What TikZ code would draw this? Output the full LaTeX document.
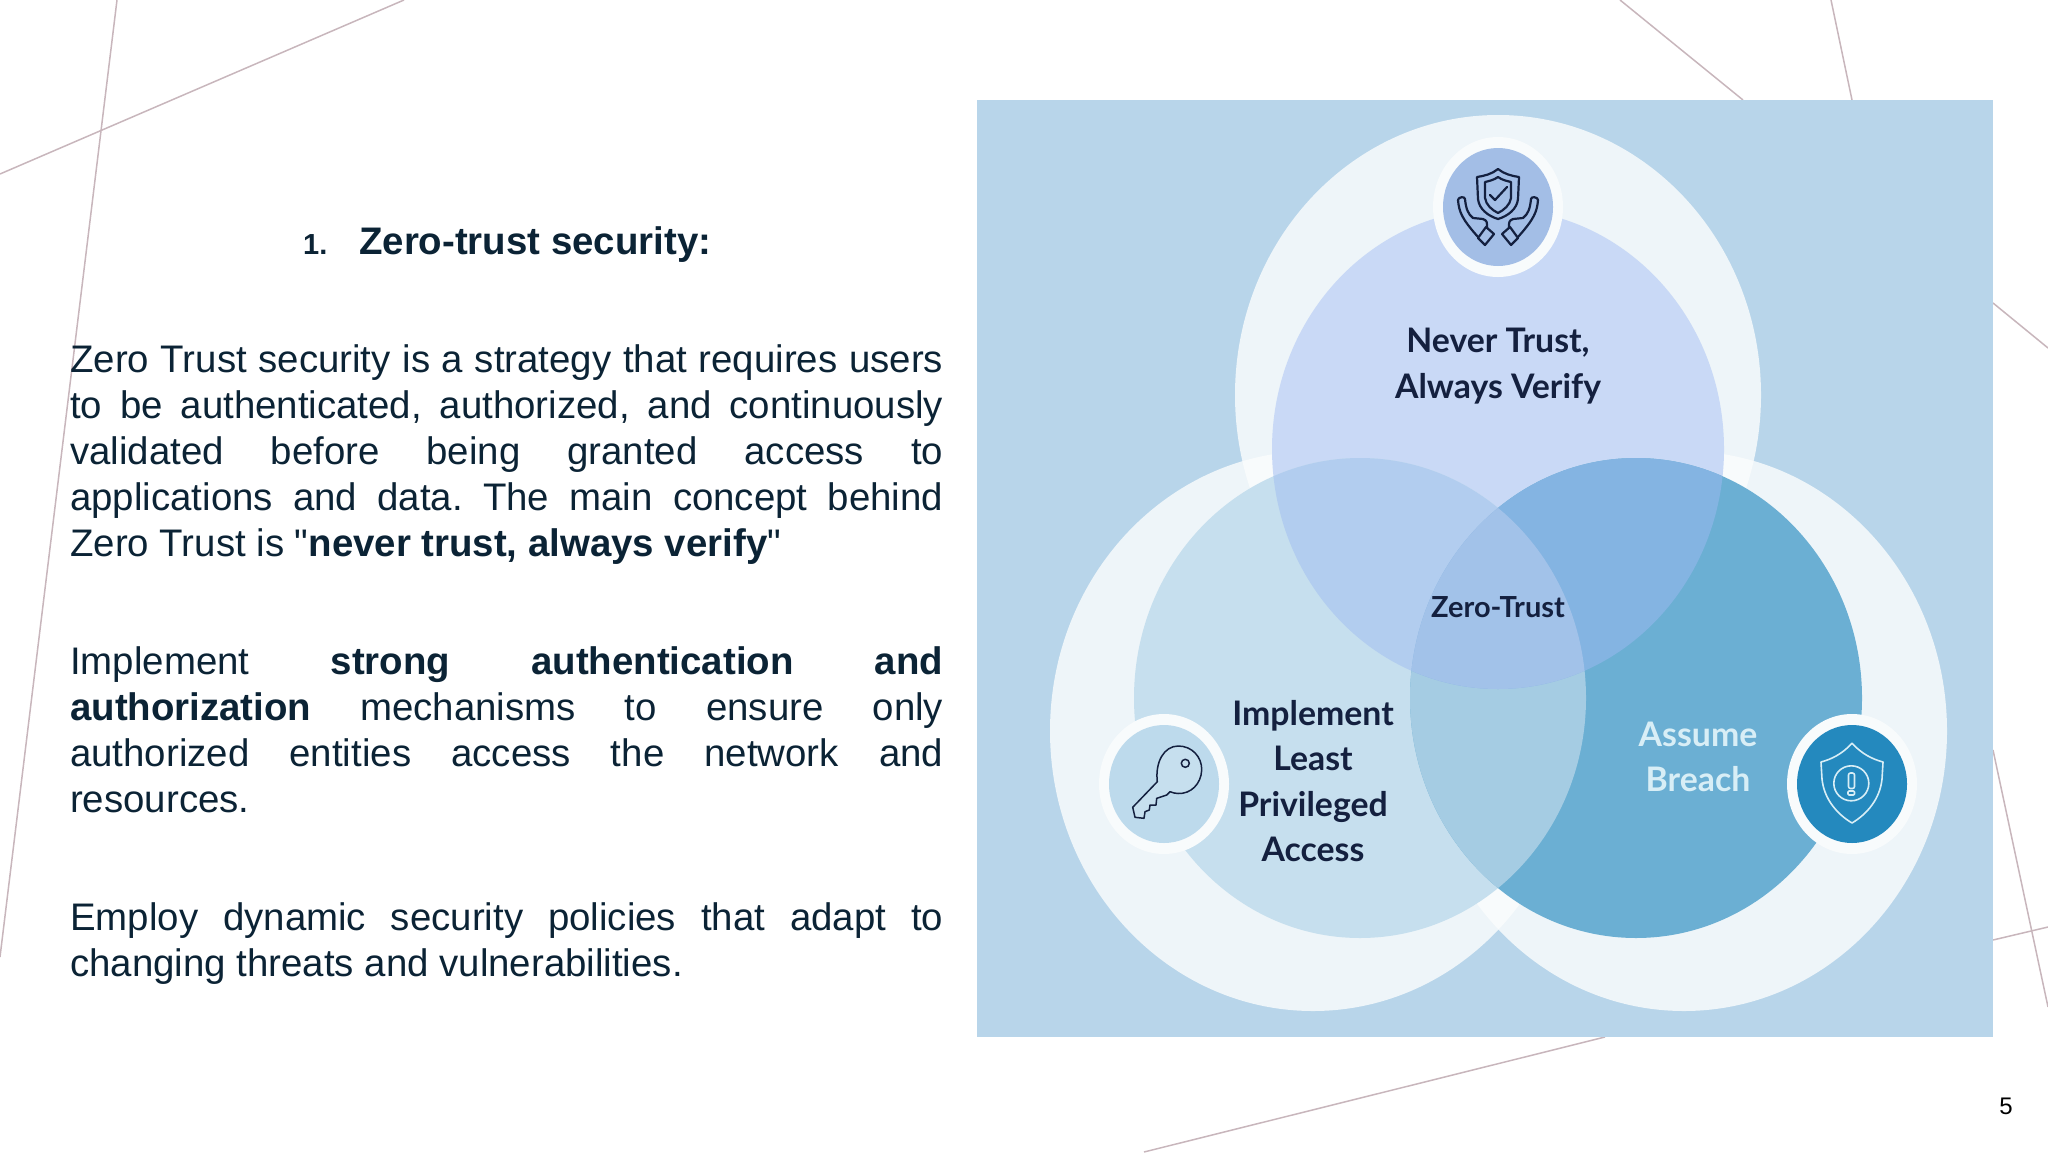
\documentclass[tikz,border=0pt]{standalone}
\usepackage{fontspec}
\setmainfont{Liberation Sans}
\newfontfamily\plainquote{Liberation Sans}
\newfontfamily\panelfont{Lato}
\newcommand{\straightq}{{\plainquote"}}
\usetikzlibrary{positioning}

\definecolor{inknavy}{HTML}{0B2335}
\definecolor{inkdark}{HTML}{14203F}
\definecolor{mauveline}{HTML}{C8B6BC}
\definecolor{panelblue}{HTML}{B8D5EA}
\definecolor{ringpale}{HTML}{EEF5F9}
\definecolor{ringwhite}{HTML}{F8FBFC}
\definecolor{topfill}{HTML}{C9D9F6}
\definecolor{leftfill}{HTML}{C6DFEE}
\definecolor{rightfill}{HTML}{6BAFD3}
\definecolor{topleft}{HTML}{B2CDEF}
\definecolor{topright}{HTML}{84B4E2}
\definecolor{leftright}{HTML}{A5CCE3}
\definecolor{centrefill}{HTML}{A2C2E9}
\definecolor{holdblue}{HTML}{A3BEE6}
\definecolor{keyblue}{HTML}{BDDAEC}
\definecolor{breachblue}{HTML}{2489BE}
\definecolor{breachline}{HTML}{D8EEF6}

\tikzset{
  backline/.style={mauveline, line width=1.5pt},
  bodytext/.style={anchor=north west, inner sep=0pt, text width=873pt, align=justify, text=inknavy,
    font=\frenchspacing\fontsize{38.4}{46}\selectfont},
  panellabel/.style={inner sep=0pt, align=center, text=inkdark,
    font=\panelfont\bfseries\fontsize{33.8}{45.5}\selectfont},
  iconline/.style={inkdark, line width=2.2pt, line join=round, line cap=round},
}

\begin{document}
\begin{tikzpicture}[x=1pt, y=-1pt]
\useasboundingbox (0,0) rectangle (2048,1152);

% lines behind the slide
\draw[backline] (117,0) -- (0,957);
\draw[backline] (0,174) -- (404,0);
\draw[backline] (1620,0) -- (1743,100);
\draw[backline] (1831,0) -- (1852,100);
\draw[backline] (1993,303) -- (2048,348);
\draw[backline] (1993,750) -- (2048,1007);
\draw[backline] (1993,940) -- (2048,927);
\draw[backline] (1605,1037) -- (1144,1152);

\coordinate (outertop) at (1498,395);
\coordinate (outerleft) at (1313,731);
\coordinate (outerright) at (1684,731);
\coordinate (innertop) at (1498,449);
\coordinate (innerleft) at (1360,698);
\coordinate (innerright) at (1636,698);
\coordinate (hold) at (1498,207);
\coordinate (keyhole) at (1164,784);
\coordinate (breach) at (1852,784);

\fill[panelblue] (977,100) rectangle (1993,1037);

\foreach \c in {outertop,outerleft,outerright}
  \fill[ringpale] (\c) ellipse [x radius=263, y radius=280];
\begin{scope}
\clip (outerleft) ellipse [x radius=263, y radius=280];
\fill[ringwhite] (outerright) ellipse [x radius=263, y radius=280];
\fill[ringwhite] (outertop) ellipse [x radius=263, y radius=280];
\end{scope}
\begin{scope}
\clip (outerright) ellipse [x radius=263, y radius=280];
\fill[ringwhite] (outertop) ellipse [x radius=263, y radius=280];
\end{scope}

\fill[topfill] (innertop) ellipse [x radius=226, y radius=240];
\fill[leftfill] (innerleft) ellipse [x radius=226, y radius=240];
\fill[rightfill] (innerright) ellipse [x radius=226, y radius=240];
\begin{scope}
\clip (innerleft) ellipse [x radius=226, y radius=240];
\fill[leftright] (innerright) ellipse [x radius=226, y radius=240];
\fill[topleft] (innertop) ellipse [x radius=226, y radius=240];
\end{scope}
\begin{scope}
\clip (innerright) ellipse [x radius=226, y radius=240];
\fill[topright] (innertop) ellipse [x radius=226, y radius=240];
\clip (innerleft) ellipse [x radius=226, y radius=240];
\fill[centrefill] (innertop) ellipse [x radius=226, y radius=240];
\end{scope}

\foreach \c/\f in {hold/holdblue,keyhole/keyblue,breach/breachblue} {
  \fill[ringwhite] (\c) ellipse [x radius=65, y radius=70];
  \fill[\f] (\c) ellipse [x radius=55, y radius=59];
}

% shield held in two hands
\begin{scope}[shift={(hold)}, iconline]
\draw (0,-38) .. controls (-6,-33) and (-14,-31) .. (-21,-30) -- (-20,-8) .. controls (-19,2) and (-10,9) .. (0,12)
  .. controls (10,9) and (19,2) .. (20,-8) -- (21,-30) .. controls (14,-31) and (6,-33) .. (0,-38) -- cycle;
\draw (0,-30) .. controls (-4,-27) and (-9,-26) .. (-13,-25) -- (-13,-9) .. controls (-12,-2) and (-6,3) .. (0,6)
  .. controls (6,3) and (12,-2) .. (13,-9) -- (13,-25) .. controls (9,-26) and (4,-27) .. (0,-30) -- cycle;
\draw (-8,-12) -- (-3,-7) -- (9,-20);
\foreach \s in {1,-1} {
  \begin{scope}[xscale=\s]
  \draw (-40,-7) .. controls (-40,-10) and (-33,-11) .. (-33,-8) .. controls (-32,2) and (-30,7) .. (-25,11)
    -- (-15,12) .. controls (-11,14) .. (-11,21);
  \draw (-40,-7) .. controls (-39,5) and (-36,12) .. (-20,30);
  \draw (-20,31) -- (-13,38) -- (-4,27) -- (-12,20) -- cycle;
  \end{scope}
}
\end{scope}

% key
\begin{scope}[shift={(keyhole)}, iconline, line width=1.5pt]
\filldraw[fill=leftfill] (-6.7,-2.3) .. controls (-9,-22) and (0,-38) .. (14.3,-38) .. controls (28,-38) and (38,-27) .. (37.7,-14)
  .. controls (37,0) and (27,10) .. (14,9.5) .. controls (11,9.5) and (8,8.5) .. (6,7.7) -- (2.7,11) -- (-7.3,14.3) -- (-8,21)
  -- (-14,21) -- (-14.7,26) -- (-19,27.7) -- (-20,34.3) -- (-29,33.3) -- (-31.3,23.3) -- cycle;
\draw (21.3,-20.7) circle (4);
\end{scope}

% shield with warning
\begin{scope}[shift={(breach)}, iconline, breachline, line width=1.6pt]
\draw (0,-40.7) .. controls (-10,-30) and (-20,-25) .. (-31,-22) -- (-30,-5) .. controls (-28,15) and (-15,30) .. (0,39)
  .. controls (15,30) and (28,15) .. (30,-5) -- (31,-22) .. controls (20,-25) and (10,-30) .. (0,-40.7) -- cycle;
\draw (-0.7,-0.7) circle (17.5);
\draw[rounded corners=2] (-3.5,-11) rectangle (2.5,4.5);
\draw[rounded corners=1] (-4,7) rectangle (2.5,11);
\end{scope}

\node[panellabel] (never) at (1498,366) {Never Trust,\\Always Verify};
\node[panellabel] (least) at (1313,781) {Implement\\Least\\Privileged\\Access};
\node[panellabel, text=breachline] (assume) at (1698,757) {Assume\\Breach};
\node[panellabel, font=\panelfont\bfseries\fontsize{29}{32}\selectfont] (zero) at (1498,607) {Zero-Trust};

% slide text
\node[anchor=base west, inner sep=0pt, text=inknavy, font=\bfseries\fontsize{29}{34}\selectfont] (num) at (303,254) {1.};
\node[anchor=base west, inner sep=0pt, text=inknavy, font=\bfseries\fontsize{38.4}{46}\selectfont] (title) at (359,254) {Zero-trust security:};

\node[bodytext] (para1) at (70,344) {Zero Trust security is a strategy that requires users\linebreak
to be authenticated, authorized, and continuously\linebreak
validated before being granted access to\linebreak
applications and data. The main concept behind\linebreak
Zero Trust is \straightq\textbf{never trust, always verify}\straightq};
\node[bodytext] (para2) at (70,646) {Implement \textbf{strong authentication and}\linebreak
\textbf{authorization} mechanisms to ensure only\linebreak
authorized entities access the network and\linebreak
resources.};
\node[bodytext] (para3) at (70,902) {Employ dynamic security policies that adapt to\linebreak
changing threats and vulnerabilities.};

\node[anchor=base, inner sep=0pt, text=black, font=\fontsize{24}{26}\selectfont] (page) at (2006,1114) {5};
\end{tikzpicture}
\end{document}
